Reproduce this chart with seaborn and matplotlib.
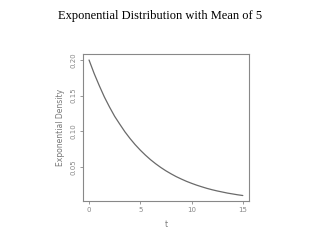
import matplotlib
matplotlib.use("Agg")
import matplotlib.pyplot as plt
import seaborn as sns
import pandas as pd

t_values = [0, 0.5, 1, 1.5, 2, 2.5, 3, 3.5, 4, 4.5, 5, 5.5, 6, 6.5, 7, 7.5,
            8, 8.5, 9, 9.5, 10, 10.5, 11, 11.5, 12, 12.5, 13, 13.5, 14, 14.5, 15]
density = [0.200, 0.181, 0.164, 0.148, 0.134, 0.121, 0.110, 0.0993, 0.0899, 0.0813,
           0.0736, 0.0666, 0.0602, 0.0545, 0.0493, 0.0446, 0.0404, 0.0365, 0.0331,
           0.0299, 0.0271, 0.0245, 0.0222, 0.0200, 0.0181, 0.0164, 0.0149, 0.0134,
           0.0122, 0.0110, 0.0100]
x_ticks = [0, 5, 10, 15]
y_ticks = [0.05, 0.10, 0.15, 0.20]
y_tick_labels = ["0.05", "0.10", "0.15", "0.20"]

df = pd.DataFrame({"t": t_values, "density": density})

sns.set_style("white")
fig = plt.figure(figsize=(3.2, 2.4), dpi=100)
ax = fig.add_axes([0.259, 0.1625, 0.519, 0.6125])
sns.lineplot(data=df, x="t", y="density", ax=ax, color="#6a6a6a", linewidth=0.9)

ax.set_xlim(-0.6, 15.6)
ax.set_ylim(0.0023, 0.2084)
ax.set_xticks(x_ticks)
ax.set_xticklabels([str(v) for v in x_ticks])
ax.set_yticks(y_ticks)
ax.set_yticklabels(y_tick_labels, rotation=90, va="center")
ax.tick_params(axis="both", which="both", direction="out", length=2.5, width=0.6,
               color="#888888", labelsize=5, labelcolor="#888888", pad=2,
               bottom=True, left=True)
for s in ax.spines.values():
    s.set_color("#888888")
    s.set_linewidth(0.8)
ax.set_xlabel("t", fontsize=5.5, color="#777777", labelpad=5)
ax.set_ylabel("Exponential Density", fontsize=5.5, color="#777777", labelpad=4)

fig.text(0.5, 0.935, "Exponential Distribution with Mean of 5",
         ha="center", va="center", fontsize=9, family="Liberation Serif", color="#000000")

fig.savefig("out.png", dpi=100)
